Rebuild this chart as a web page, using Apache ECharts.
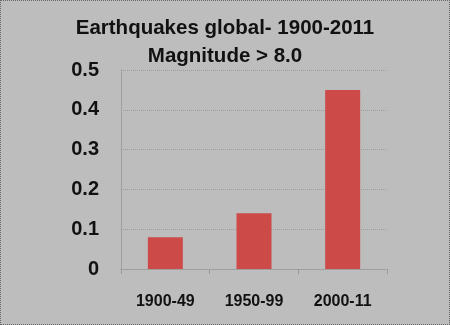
<!DOCTYPE html>
<html><head><meta charset="utf-8">
<script src="https://cdn.jsdelivr.net/npm/echarts@6/dist/echarts.min.js"></script>
<style>html,body{margin:0;padding:0;background:#bdbdbd;}#c{width:450px;height:325px;box-sizing:border-box;border:1px dotted #666;}</style>
</head><body><div id="c"></div>
<script>
var categories = ['1900-49', '1950-99', '2000-11'];
var values = [0.08, 0.14, 0.45];
var titleLines = ['Earthquakes global- 1900-2011', 'Magnitude > 8.0'];
var chart = echarts.init(document.getElementById('c'));
chart.setOption({
  backgroundColor: '#bdbdbd',
  animation: false,
  title: {
    text: titleLines.join('\n'),
    left: 'center', top: 8,
    textStyle: { fontFamily: 'Liberation Sans', fontWeight: 'bold', fontSize: 20.5, color: '#111', lineHeight: 28 }
  },
  grid: { left: 120, right: 62, top: 69, bottom: 55, containLabel: false },
  xAxis: {
    type: 'category', data: categories,
    axisLine: { lineStyle: { color: '#999', type: 'dotted' } },
    axisTick: { show: true, lineStyle: { color: '#999' } },
    axisLabel: { fontFamily: 'Liberation Sans', fontWeight: 'bold', fontSize: 16, color: '#111', margin: 25 }
  },
  yAxis: {
    type: 'value', min: 0, max: 0.5, interval: 0.1,
    axisLine: { show: true, lineStyle: { color: '#999', type: 'dotted' } },
    splitLine: { lineStyle: { color: '#9a9a9a', type: 'dotted' } },
    axisLabel: { fontFamily: 'Liberation Sans', fontWeight: 'bold', fontSize: 20, color: '#111', margin: 22,
      formatter: function (v) { return String(Math.round(v * 10) / 10); } }
  },
  series: [{
    type: 'bar', data: values, barWidth: 35,
    itemStyle: { color: '#cc4b48' }
  }]
});
</script></body></html>
